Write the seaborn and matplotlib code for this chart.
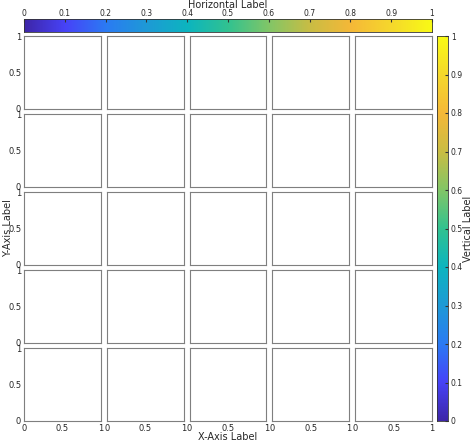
import numpy as np
import matplotlib
matplotlib.use("Agg")
import matplotlib.pyplot as plt
import seaborn as sns
from matplotlib.colors import LinearSegmentedColormap

sns.set_style("white")
plt.rcParams['font.family'] = ['DejaVu Sans']

# parula-like colormap
parula_colors = ["#3e26a8", "#4743f8", "#2b7bf3", "#1e9ad6", "#0cb5bf",
                 "#32c290", "#82c667", "#c9bd44", "#f5b838", "#f5d82c", "#f9fb15"]
parula = LinearSegmentedColormap.from_list("parula", parula_colors)

n_rows, n_cols = 5, 5
ticks = [0, 0.5, 1]
tick_labels = ["0", "0.5", "1"]
cbar_ticks = [0, 0.1, 0.2, 0.3, 0.4, 0.5, 0.6, 0.7, 0.8, 0.9, 1]
cbar_labels = ["0", "0.1", "0.2", "0.3", "0.4", "0.5", "0.6", "0.7", "0.8", "0.9", "1"]

W, H = 474, 441
fig = plt.figure(figsize=(W / 100, H / 100), dpi=100)

x0, x1 = 24, 432
y0, y1 = 36, 421
gx, gy = 6, 5
tw = (x1 - x0 - gx * (n_cols - 1)) / n_cols
th = (y1 - y0 - gy * (n_rows - 1)) / n_rows

edge = "#7f7f7f"
for r in range(n_rows):
    for c in range(n_cols):
        left = x0 + c * (tw + gx)
        top = y0 + r * (th + gy)
        ax = fig.add_axes([left / W, 1 - (top + th) / H, tw / W, th / H])
        ax.set_xlim(0, 1)
        ax.set_ylim(0, 1)
        ax.set_xticks(ticks)
        ax.set_yticks(ticks)
        ax.tick_params(direction="in", length=2, labelsize=6, color=edge, pad=2)
        ax.set_xticklabels(tick_labels if r == n_rows - 1 else [])
        ax.set_yticklabels(tick_labels if c == 0 else [])
        for s in ax.spines.values():
            s.set_color(edge)
            s.set_linewidth(0.8)

grad = np.linspace(0, 1, 256)

# top colorbar
cax = fig.add_axes([x0 / W, 1 - 32 / H, (x1 - x0) / W, 13 / H])
cax.imshow(grad[None, :], aspect="auto", cmap=parula, extent=[0, 1, 0, 1])
cax.set_yticks([])
cax.set_xticks(cbar_ticks)
cax.set_xticklabels(cbar_labels)
cax.xaxis.tick_top()
cax.tick_params(direction="in", length=2, labelsize=5.5, pad=1, color="#333333")
for s in cax.spines.values():
    s.set_color("#333333"); s.set_linewidth(0.6)
fig.text((x0 + x1) / 2 / W, 1 - 5 / H, "Horizontal Label", ha="center", va="center", fontsize=7)

# right colorbar
vax = fig.add_axes([437 / W, 1 - y1 / H, 11 / W, (y1 - y0) / H])
vax.imshow(grad[:, None], aspect="auto", cmap=parula, origin="lower", extent=[0, 1, 0, 1])
vax.set_xticks([])
vax.set_yticks(cbar_ticks)
vax.set_yticklabels(cbar_labels)
vax.yaxis.tick_right()
vax.tick_params(direction="in", length=2, labelsize=5.5, pad=2, color="#333333")
for s in vax.spines.values():
    s.set_color("#333333"); s.set_linewidth(0.6)
fig.text(468 / W, 1 - (y0 + y1) / 2 / H, "Vertical Label", ha="center", va="center",
         rotation=90, fontsize=7)

fig.text((x0 + x1) / 2 / W, 1 - 437 / H, "X-Axis Label", ha="center", va="center", fontsize=7)
fig.text(8 / W, 1 - (y0 + y1) / 2 / H, "Y-Axis Label", ha="center", va="center",
         rotation=90, fontsize=7)

fig.savefig("out.png", dpi=100)
